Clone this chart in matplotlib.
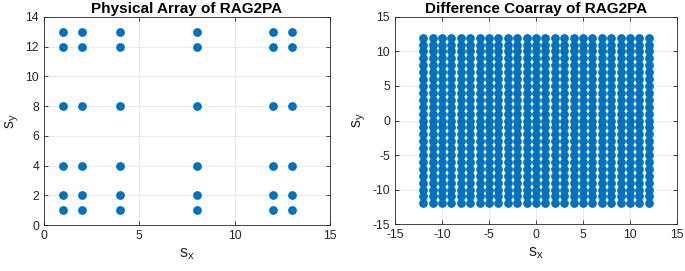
import matplotlib.pyplot as plt
import numpy as np

plt.rcParams['font.family'] = ['Liberation Sans', 'DejaVu Sans']
plt.rcParams['mathtext.default'] = 'regular'
plt.rcParams['axes.unicode_minus'] = False

# sensor positions of the physical array (same set on both axes)
sensor_x = [1, 2, 4, 8, 12, 13]
sensor_y = [1, 2, 4, 8, 12, 13]

# lags of the difference coarray
lag_x = [-12, -11, -10, -9, -8, -7, -6, -5, -4, -3, -2, -1, 0,
         1, 2, 3, 4, 5, 6, 7, 8, 9, 10, 11, 12]
lag_y = [-12, -11, -10, -9, -8, -7, -6, -5, -4, -3, -2, -1, 0,
         1, 2, 3, 4, 5, 6, 7, 8, 9, 10, 11, 12]

blue = '#0072BD'
dark = '#262626'

fig = plt.figure(figsize=(6.85, 2.71), dpi=100)
ax1 = fig.add_axes([0.0642, 0.1697, 0.4176, 0.7676])
ax2 = fig.add_axes([0.5766, 0.1734, 0.4117, 0.7639])


def style(ax):
    ax.grid(True, color='#e6e6e6', linewidth=0.6)
    ax.set_axisbelow(True)
    ax.tick_params(direction='in', length=3, width=0.6, colors=dark,
                   labelsize=8.8, top=True, right=True,
                   labeltop=False, labelright=False)
    for s in ax.spines.values():
        s.set_color(dark)
        s.set_linewidth(0.6)
    ax.set_xlabel('$s_x$', fontsize=11.5, color=dark, labelpad=3)
    ax.set_ylabel('$s_y$', fontsize=11.5, color=dark, labelpad=3)


gx, gy = np.meshgrid(sensor_x, sensor_y)
ax1.plot(gx.ravel(), gy.ravel(), 'o', color=blue, markersize=6.3,
         markeredgewidth=0, linestyle='none')
ax1.set_xlim(0, 15)
ax1.set_ylim(0, 14)
ax1.set_xticks([0, 5, 10, 15])
ax1.set_yticks([0, 2, 4, 6, 8, 10, 12, 14])
ax1.set_title('Physical Array of RAG2PA', fontsize=11, fontweight='bold',
              color='black', pad=3)
style(ax1)

cx, cy = np.meshgrid(lag_x, lag_y)
ax2.plot(cx.ravel(), cy.ravel(), 'o', color=blue, markersize=6.3,
         markeredgewidth=0, linestyle='none')
ax2.set_xlim(-15, 15)
ax2.set_ylim(-15, 15)
ax2.set_xticks([-15, -10, -5, 0, 5, 10, 15])
ax2.set_yticks([-15, -10, -5, 0, 5, 10, 15])
ax2.set_title('Difference Coarray of RAG2PA', fontsize=11, fontweight='bold',
              color='black', pad=3)
style(ax2)

fig.savefig('out.png', dpi=100)
